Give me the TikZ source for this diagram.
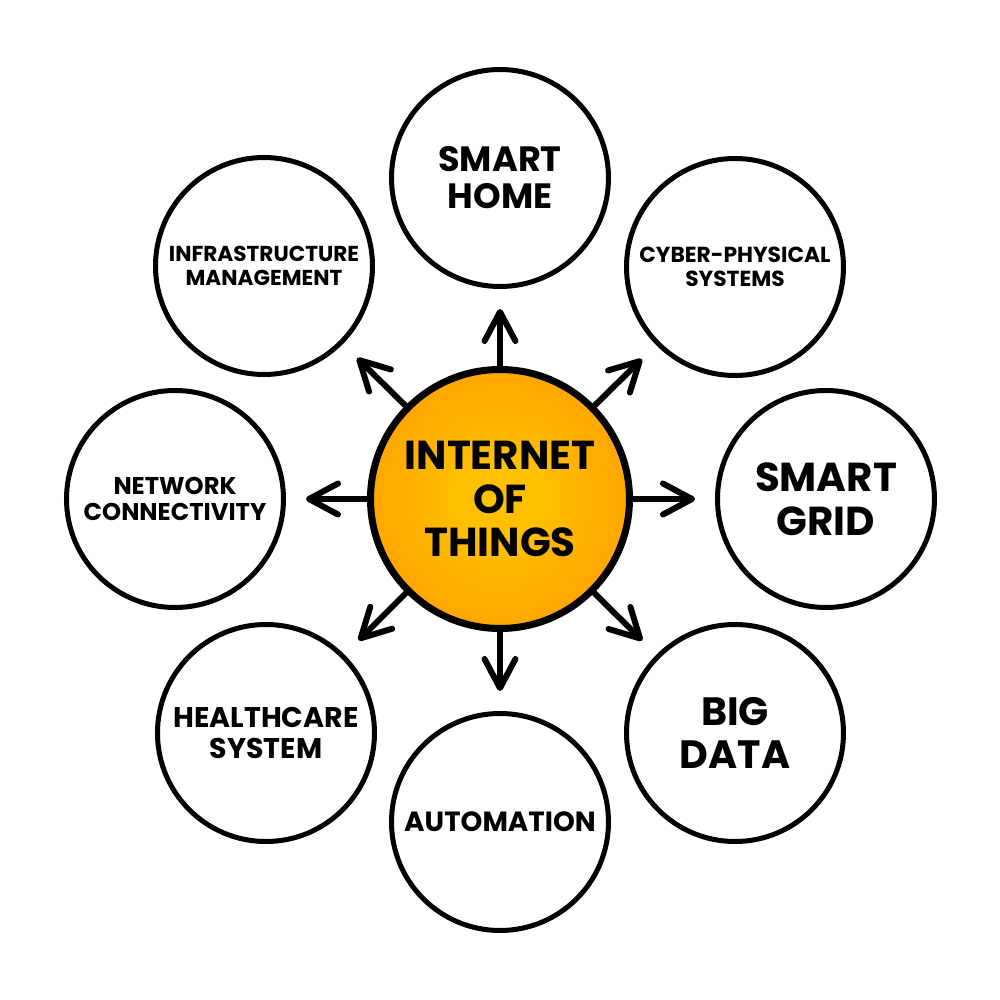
\documentclass[tikz,border=0pt]{standalone}
\usepackage{fontspec}
\setmainfont{Poppins}
\usetikzlibrary{arrows.meta}

\definecolor{iotcore}{RGB}{255,192,0}
\definecolor{iotrim}{RGB}{255,130,0}
\pgfdeclareradialshading{iotglow}{\pgfpoint{0bp}{0bp}}{color(0bp)=(iotcore); color(8bp)=(iotcore); color(50bp)=(iotrim)}

\begin{document}
\begin{tikzpicture}[
  hub/.style={circle, draw=black, line width=0.14cm, minimum size=5.18cm, shade, shading=iotglow, align=center},
  topic/.style={circle, draw=black, line width=0.1cm, minimum size=4.34cm, inner sep=0pt, align=center},
  link/.style={-{Straight Barb[length=0.58cm,width=0.62cm,round]}, line width=0.12cm, line cap=round, shorten >=0.4cm},
  big/.style={font=\fontsize{#1}{#1}\selectfont\bfseries}
]
\useasboundingbox (-10,-10.02) rectangle (10,9.98);
%
\node [hub, big=23] (iot) at (0,0) {INTERNET\\[2pt]OF\\[2pt]THINGS};
%
\node [topic, big=20] (home) at (0,6.42) {SMART\\[1pt]HOME};
\node [topic, big=12.4] (cps) at (4.7,4.64) {CYBER-PHYSICAL\\[1pt]SYSTEMS};
\node [topic, big=23] (grid) at (6.52,0) {SMART\\[2pt]GRID};
\node [topic, big=22.5] (data) at (4.7,-4.68) {BIG\\[2pt]DATA};
\node [topic, big=15.8] (auto) at (0,-6.46) {AUTOMATION};
\node [topic, big=16.2] (health) at (-4.68,-4.68) {HEALTHCARE\\[1pt]SYSTEM};
\node [topic, big=13.8] (net) at (-6.5,0) {NETWORK\\[1pt]CONNECTIVITY};
\node [topic, big=12.3] (infra) at (-4.72,4.66) {INFRASTRUCTURE\\[1pt]MANAGEMENT};
%
\draw [link] (iot) -- (home);
\draw [link] (iot) -- (cps);
\draw [link] (iot) -- (grid);
\draw [link] (iot) -- (data);
\draw [link] (iot) -- (auto);
\draw [link] (iot) -- (health);
\draw [link] (iot) -- (net);
\draw [link] (iot) -- (infra);
\end{tikzpicture}
\end{document}
